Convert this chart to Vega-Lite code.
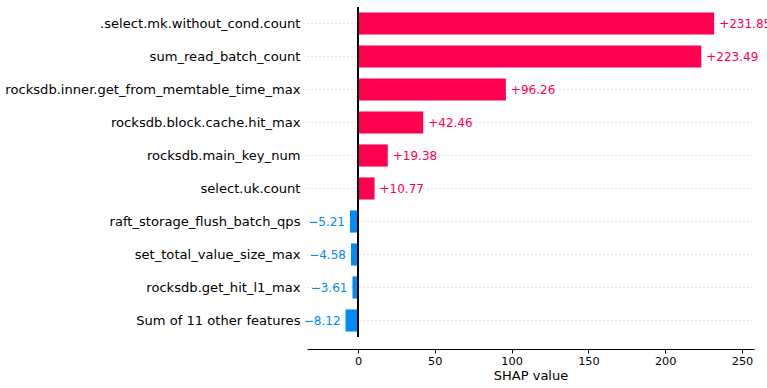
{
  "$schema": "https://vega.github.io/schema/vega-lite/v6.json",
  "width": 447,
  "height": 330,
  "autosize": {"type": "none"},
  "padding": {"left": 307, "top": 7, "right": 13, "bottom": 51},
  "config": {"view": {"stroke": null}, "font": "DejaVu Sans"},
  "data": {
    "values": [
      {"feature": ".select.mk.without_cond.count", "value": 231.85},
      {"feature": "sum_read_batch_count", "value": 223.49},
      {"feature": "rocksdb.inner.get_from_memtable_time_max", "value": 96.26},
      {"feature": "rocksdb.block.cache.hit_max", "value": 42.46},
      {"feature": "rocksdb.main_key_num", "value": 19.38},
      {"feature": "select.uk.count", "value": 10.77},
      {"feature": "raft_storage_flush_batch_qps", "value": -5.21},
      {"feature": "set_total_value_size_max", "value": -4.58},
      {"feature": "rocksdb.get_hit_l1_max", "value": -3.61},
      {"feature": "Sum of 11 other features", "value": -8.12}
    ]
  },
  "encoding": {
    "y": {
      "field": "feature",
      "type": "nominal",
      "sort": null,
      "scale": {"paddingInner": 0.33, "paddingOuter": 0.165},
      "axis": {
        "title": null,
        "domain": false,
        "ticks": false,
        "labelFontSize": 13.1,
        "labelColor": "#000000",
        "labelPadding": 7,
        "labelLimit": 400,
        "grid": true,
        "bandPosition": 0.5,
        "gridDash": [1, 3],
        "gridColor": "#cccccc",
        "gridWidth": 1
      }
    }
  },
  "layer": [
    {
      "mark": {"type": "bar"},
      "encoding": {
        "x": {
          "field": "value",
          "type": "quantitative",
          "scale": {"domain": [-33.2, 257.8], "nice": false, "zero": false},
          "axis": {
            "title": "SHAP value",
            "titleFontSize": 13,
            "titleFontWeight": "normal",
            "titleColor": "#000000",
            "titlePadding": 3,
            "values": [0, 50, 100, 150, 200, 250],
            "labelFontSize": 11.3,
            "labelColor": "#000000",
            "domainColor": "#000000",
            "tickColor": "#000000",
            "tickSize": 4,
            "grid": false,
            "offset": 12
          }
        },
        "x2": {"datum": 0},
        "color": {
          "condition": {"test": "datum.value > 0", "value": "#ff0051"},
          "value": "#008bfb"
        }
      }
    },
    {
      "mark": {"type": "rule", "color": "#000000", "strokeWidth": 1},
      "encoding": {"x": {"datum": 0, "type": "quantitative"}, "y": null}
    },
    {
      "transform": [{"filter": "datum.value > 0"}],
      "mark": {"type": "text", "align": "left", "dx": 5, "fontSize": 12, "color": "#ff0051"},
      "encoding": {
        "x": {"field": "value", "type": "quantitative"},
        "text": {"field": "value", "type": "quantitative", "format": "+.2f"}
      }
    },
    {
      "transform": [{"filter": "datum.value < 0"}],
      "mark": {"type": "text", "align": "right", "dx": -5, "fontSize": 12, "color": "#008bfb"},
      "encoding": {
        "x": {"field": "value", "type": "quantitative"},
        "text": {"field": "value", "type": "quantitative", "format": "+.2f"}
      }
    }
  ]
}
